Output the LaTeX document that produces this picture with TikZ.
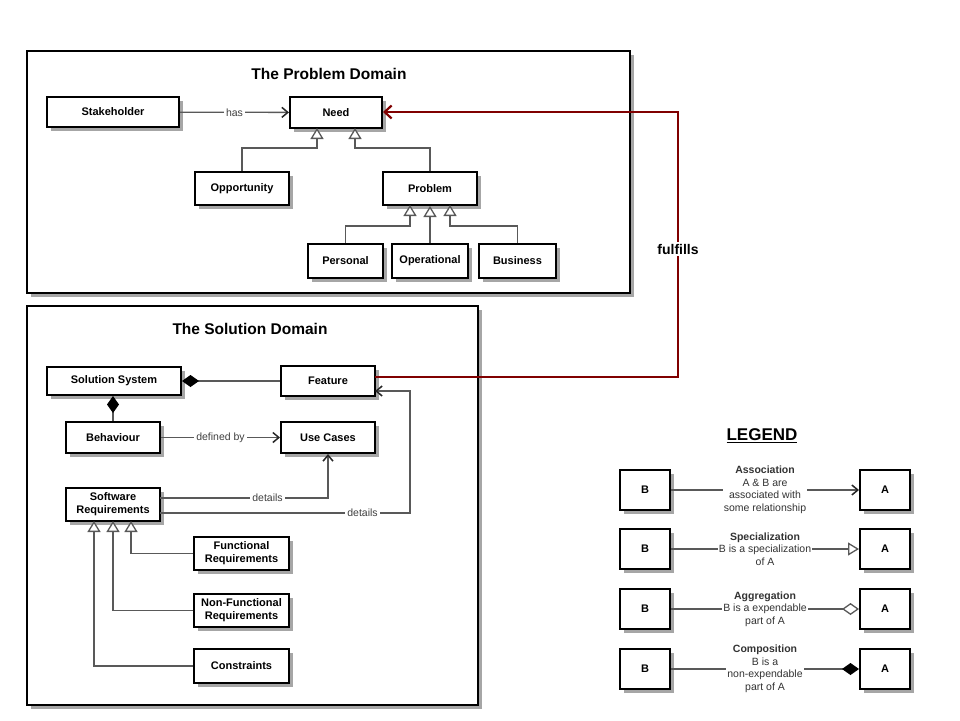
\documentclass[tikz,border=0pt]{standalone}
\usepackage{fontspec}
\setmainfont{Liberation Sans}
\usetikzlibrary{arrows.meta,shadows}
\begin{document}
\begin{tikzpicture}[x=1pt,y=-1pt,
  box/.style={draw,line width=2pt,fill=white,drop shadow={shadow xshift=4pt,shadow yshift=-4pt,fill=black!35,opacity=1},font=\bfseries\fontsize{11}{13}\selectfont,align=center,inner sep=0pt},
  frame/.style={draw,line width=2pt,fill=white,drop shadow={shadow xshift=4pt,shadow yshift=-4pt,fill=black!35,opacity=1}},
  ttl/.style={font=\bfseries\fontsize{15.5}{18}\selectfont},
  ln/.style={draw=black!65,line width=1.3pt},
  lbl/.style={fill=white,text=black!75,font=\fontsize{10.5}{12.5}\selectfont,inner sep=2pt,align=center},
  assoc/.style={ln,-{Straight Barb[length=6pt,width=10pt,line width=1.5pt,color=black!85]}},
  gen/.style={ln,-{Triangle[open,fill=white,length=11pt,width=13pt]}},
  aggr/.style={ln,-{Diamond[open,fill=white,length=17pt,width=12pt]}},
  comp/.style={ln,-{Diamond[length=17pt,width=12pt,fill=black,color=black]}}
]
\useasboundingbox (0,0) rectangle (960,720);
% frames
\path[frame] (27,51) rectangle (630,293);
\node[ttl] (t1) at (329,74) {The Problem Domain};
\path[frame] (27,306) rectangle (478,705);
\node[ttl] (t2) at (250,329) {The Solution Domain};
\newcommand{\bx}[6]{\node[box,minimum width=#4,minimum height=#5] (#1) at (#2,#3) {#6};}
% problem
\bx{stake}{113}{112}{132pt}{30pt}{Stakeholder}
\bx{need}{336}{112.5}{92pt}{31pt}{Need}
\bx{opp}{242}{188.5}{94pt}{33pt}{Opportunity}
\bx{prob}{430}{188.5}{94pt}{33pt}{Problem}
\bx{pers}{345.5}{261}{75pt}{34pt}{Personal}
\bx{oper}{430}{261}{76pt}{34pt}{Operational}
\bx{bus}{517.5}{261}{77pt}{34pt}{Business}
% solution
\bx{ss}{114}{381}{134pt}{28pt}{Solution System}
\bx{feat}{328}{381}{94pt}{30pt}{Feature}
\bx{beh}{113}{437.5}{94pt}{31pt}{Behaviour}
\bx{uc}{328}{437.5}{94pt}{31pt}{Use Cases}
\bx{swr}{113}{504.5}{94pt}{33pt}{Software\\Requirements}
\bx{fr}{241.5}{553.5}{95pt}{33pt}{Functional\\Requirements}
\bx{nfr}{241.5}{610.5}{95pt}{33pt}{Non-Functional\\Requirements}
\bx{con}{241.5}{666}{95pt}{34pt}{Constraints}
% problem connectors
\draw[assoc] (stake) -- node[lbl]{has} (need);
\draw[gen] (opp.north) |- (317,148) -- (317,128);
\draw[gen] (prob.north) |- (355,148) -- (355,128);
\draw[gen] (pers.north) |- (410,226) -- (410,205);
\draw[gen] (oper.north) -- (prob.south);
\draw[gen] (bus.north) |- (450,226) -- (450,205);
% fulfills
\coordinate (f1) at (678,377);
\coordinate (f2) at (678,112);
\draw[draw={rgb,255:red,128;green,0;blue,0},line width=2.4pt,-{Straight Barb[length=7pt,width=13pt,line width=2.2pt]}] (375,377) -- (f1) -- (f2) -- (need.east |- f2);
\node[font=\bfseries\fontsize{14}{16}\selectfont,fill=white,inner sep=2pt] (ful) at (678,249) {fulfills};
% solution connectors
\draw[comp] (feat.west) -- (ss.east);
\draw[comp] (beh.north) -- (beh.north |- ss.south);
\draw[assoc] (beh) -- node[lbl]{defined by} (uc);
\draw[assoc] (160,498) -- node[lbl,pos=0.64]{details} (328,498) -- (uc.south);
\draw[assoc] (160,513) -- node[lbl,pos=0.81]{details} (410,513) -- (410,391) -- (375,391);
\draw[gen] (fr.west) -| (131,521);
\draw[gen] (nfr.west) -| (113,521);
\draw[gen] (con.west) -| (94,521);
% legend
\node[font=\bfseries\fontsize{17}{20}\selectfont] (leg) at (762,436) {\underline{LEGEND}};
\foreach \i/\y/\st/\t in {1/490/assoc/{\textbf{Association}\\A \& B are\\associated with\\some relationship},
  2/549/gen/{\textbf{Specialization}\\B is a specialization\\of A},
  3/609/aggr/{\textbf{Aggregation}\\B is a expendable\\part of A},
  4/669/comp/{\textbf{Composition}\\B is a\\non-expendable\\part of A}}{
  \node[box,minimum width=50pt,minimum height=40pt] (b\i) at (645,\y) {B};
  \node[box,minimum width=50pt,minimum height=40pt] (a\i) at (885,\y) {A};
  \draw[\st] (b\i) -- (a\i);
  \node[lbl,text=black!80,font=\fontsize{10.5}{12.5}\selectfont,inner sep=1pt] (l\i) at (765,\y) {\t};
}
\end{tikzpicture}
\end{document}
